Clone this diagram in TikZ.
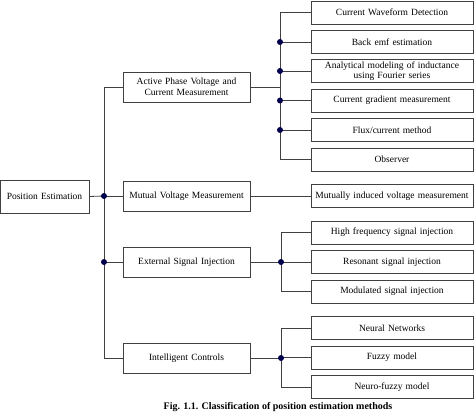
\documentclass[tikz,border=0pt]{standalone}
\usepackage{fontspec}
\setmainfont{Liberation Serif}
\usepackage{tikz}

\tikzset{
  box/.style={draw=black!75, line width=0.8pt, align=center, inner xsep=0pt, inner ysep=1pt,
    font=\fontsize{9.5}{10.5}\selectfont},
  lvone/.style={box, text width=127pt, minimum height=30pt},
  lvtwo/.style={box, text width=162pt, minimum height=23pt},
  link/.style={draw=black!75, line width=0.8pt}
}

\begin{document}
\begin{tikzpicture}[x=1pt, y=-1pt]
            \useasboundingbox (0,0) rectangle (474,412);

            \coordinate (j0) at (104, 196);
            \coordinate (j1) at (280, 87);
            \coordinate (j2) at (281, 262);
            \coordinate (j3) at (281, 358);

            \node[box, text width=89pt, minimum height=33pt] (pe) at (44.5, 196.5) {Position Estimation};

            \node[lvone] (apv) at (186.5, 87) {Active Phase Voltage and\\Current Measurement};
            \node[lvone] (mvm) at (186.5, 196) {Mutual Voltage Measurement};
            \node[lvone] (esi) at (186.5, 262) {External Signal Injection};
            \node[lvone] (ic) at (186.5, 358) {Intelligent Controls};

            \node[lvtwo] (cwd) at (392, 12.5) {Current Waveform Detection};
            \node[lvtwo] (bemf) at (392, 42) {Back emf estimation};
            \node[lvtwo] (ami) at (392, 71) {Analytical modeling of inductance\\using Fourier series};
            \node[lvtwo] (cgm) at (392, 100.5) {Current gradient measurement};
            \node[lvtwo] (fcm) at (392, 130) {Flux/current method};
            \node[lvtwo] (obs) at (392, 159.5) {Observer};

            \node[lvtwo] (mivm) at (392, 196) {Mutually induced voltage measurement};

            \node[lvtwo] (hfsi) at (392, 232.5) {High frequency signal injection};
            \node[lvtwo] (rsi) at (392, 262) {Resonant signal injection};
            \node[lvtwo] (msi) at (392, 291.5) {Modulated signal injection};

            \node[lvtwo] (nn) at (392, 328) {Neural Networks};
            \node[lvtwo] (fm) at (392, 357.5) {Fuzzy model};
            \node[lvtwo] (nfm) at (392, 387) {Neuro-fuzzy model};

            % first level
            \draw[link] (pe.east) -- (j0);
            \draw[link] (apv.west) -| (j0);
            \draw[link] (mvm.west) -- (j0);
            \draw[link] (esi.west) -| (j0);
            \draw[link] (ic.west) -| (j0);

            % active phase voltage branch
            \draw[link] (apv.east) -- (j1);
            \foreach \n in {cwd, bemf, ami, cgm, fcm, obs}
              \draw[link] (\n.west) -| (j1);

            % mutual voltage branch
            \draw[link] (mvm.east) -- (mivm.west);

            % signal injection branch
            \draw[link] (esi.east) -- (j2);
            \foreach \n in {hfsi, rsi, msi}
              \draw[link] (\n.west) -| (j2);

            % intelligent controls branch
            \draw[link] (ic.east) -- (j3);
            \foreach \n in {nn, fm, nfm}
              \draw[link] (\n.west) -| (j3);

            % junction dots
            \fill[blue!30!black] (j0) circle (3pt);
            \fill[blue!30!black] (104, 262) circle (3pt);
            \foreach \n in {bemf, ami, cgm, fcm}
              \fill[blue!30!black] (\n.west -| j1) circle (3pt);
            \fill[blue!30!black] (j2) circle (3pt);
            \fill[blue!30!black] (j3) circle (3pt);

            \node[font=\bfseries\fontsize{10}{11}\selectfont, anchor=south, inner sep=0pt] (cap) at (278, 411.5) {Fig. 1.1. Classification of position estimation methods};
        \end{tikzpicture}
\end{document}
